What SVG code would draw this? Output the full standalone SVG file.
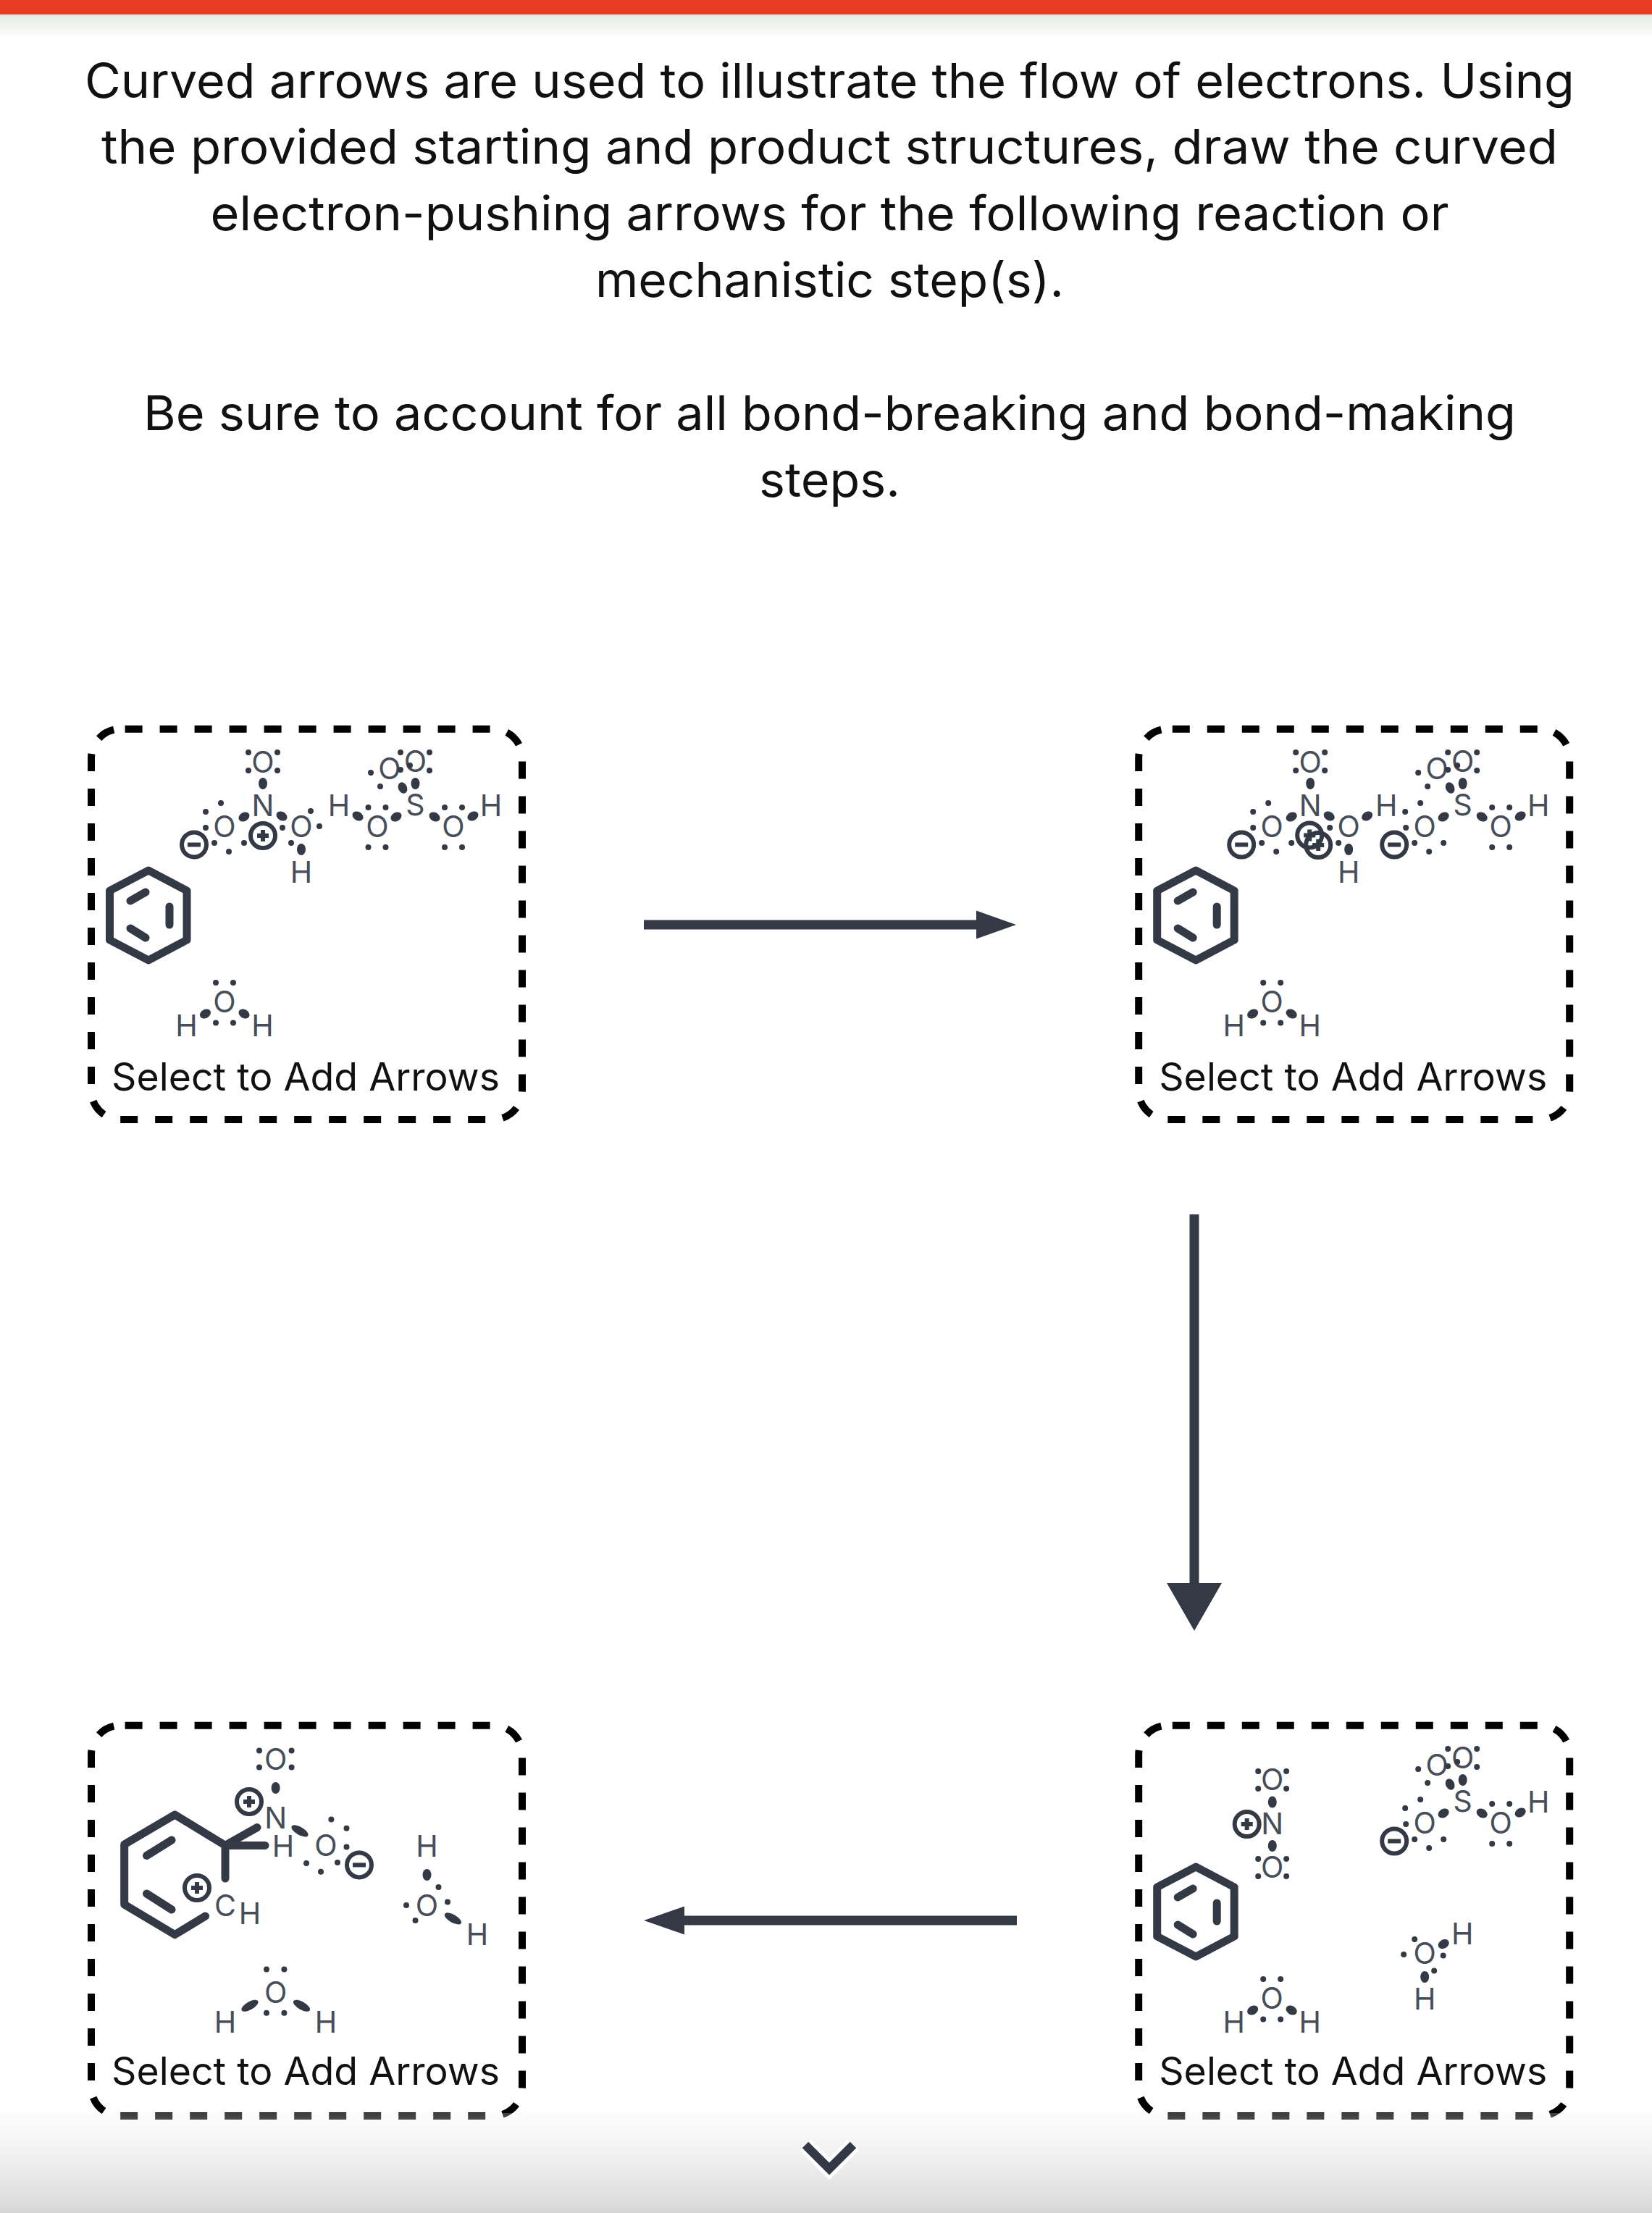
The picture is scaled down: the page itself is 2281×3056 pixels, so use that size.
<svg xmlns="http://www.w3.org/2000/svg" width="2281" height="3056" viewBox="0 0 2281 3056">
<style>
.q{font-family:Inter,"Liberation Sans",sans-serif;font-size:66px;fill:#111;text-anchor:middle}
.a{font-family:Inter,"Liberation Sans",sans-serif;font-size:41px;fill:#474d59;text-anchor:middle}
.s{font-family:Inter,"Liberation Sans",sans-serif;font-size:53px;fill:#111}
.box{fill:none;stroke:#000;stroke-width:10;stroke-dasharray:24 24;stroke-dashoffset:-6.6}
.dots{fill:none;stroke:#333a45;stroke-width:8;stroke-linecap:round}
.bond{fill:none;stroke:#333a45;stroke-width:11;stroke-linecap:round;stroke-linejoin:round}
.chg{fill:none;stroke:#333a45;stroke-width:6}
.lnk{fill:none;stroke:#333a45;stroke-width:13}
.head{fill:#333a45}
</style>
<defs>
<linearGradient id="sh" x1="0" y1="0" x2="0" y2="1"><stop offset="0" stop-color="#e4e8e4"/><stop offset="1" stop-color="#fff"/></linearGradient>
<linearGradient id="ft" x1="0" y1="0" x2="0" y2="1"><stop offset="0" stop-color="#f4f4f4" stop-opacity=".25"/><stop offset=".3" stop-color="#eaeaea" stop-opacity=".5"/><stop offset="1" stop-color="#d6d6d6"/></linearGradient>
<ellipse id="b" rx="6" ry="8" fill="#333a45"/>
<ellipse id="bl" rx="5.5" ry="13" fill="#333a45"/>
<g id="plus" class="chg"><circle r="17"/><path d="M-8 0H8M0-8V8"/></g>
<g id="minus" class="chg"><circle r="17"/><path d="M-9 0H9"/></g>
<g id="benzene"><path class="bond" d="M105 202L158 230V298L105 326L51.500 298V230Z"/><path class="bond" d="M80 244L101 232M134 252V277M80 282L101 295"/></g>
<rect id="frame" class="box" x="26" y="6.700" width="595" height="539.300" rx="40" ry="40"/>
</defs>
<rect width="2281" height="3056" fill="#fff"/>
<rect y="19" width="2281" height="34" fill="url(#sh)"/>
<rect width="2281" height="20" fill="#e63c26"/>
<g id="question">
<text class="q" x="1145.500" y="135" textLength="2057" lengthAdjust="spacingAndGlyphs">Curved arrows are used to illustrate the flow of electrons. Using</text>
<text class="q" x="1145.500" y="226" textLength="2011" lengthAdjust="spacingAndGlyphs">the provided starting and product structures, draw the curved</text>
<text class="q" x="1145.500" y="318" textLength="1710" lengthAdjust="spacingAndGlyphs">electron-pushing arrows for the following reaction or</text>
<text class="q" x="1145.500" y="410" textLength="647" lengthAdjust="spacingAndGlyphs">mechanistic step(s).</text>
<text class="q" x="1145.500" y="594" textLength="1895" lengthAdjust="spacingAndGlyphs">Be sure to account for all bond-breaking and bond-making</text>
<text class="q" x="1145.500" y="686" textLength="195" lengthAdjust="spacingAndGlyphs">steps.</text>
</g>
<g id="connectors">
<path class="lnk" d="M889 1277H1350"/><polygon class="head" points="1348,1257.500 1403,1277 1348,1296.500"/>
<path class="lnk" d="M1649 1677V2195"/><polygon class="head" points="1611,2186 1687,2186 1649,2252"/>
<path class="lnk" d="M1404 2652H940"/><polygon class="head" points="945,2632.500 889,2652 945,2671.500"/>
</g>
<g id="panel-1" transform="translate(100 1000)">
<use href="#frame"/><use href="#benzene"/>
<text class="a" x="263" y="67">O</text><text class="a" x="263" y="127">N</text><text class="a" x="210" y="156">O</text><text class="a" x="316" y="156">O</text><text class="a" x="316" y="219">H</text><text class="a" x="368" y="127">H</text><text class="a" x="421" y="156">O</text><text class="a" x="473.500" y="126">S</text><text class="a" x="438" y="76">O</text><text class="a" x="473.500" y="66">O</text><text class="a" x="526" y="156">O</text><text class="a" x="578" y="127">H</text>
<text class="a" x="210" y="398">O</text><text class="a" x="157.500" y="431">H</text><text class="a" x="262.500" y="431">H</text>
<path class="dots" d="M243 39h0M283 39h0M243 64h0M283 64h0M205 109h0M184 121h0M184 143h0M196 164h0M216 176h0M237 164h0M329 120h0M341 141h0M290 143h0M302 164h0M408.500 115h0M432.500 115h0M408.500 170h0M432.500 170h0M412 67h0M425 86h0M453 63h0M466 57h0M453 39h0M493 39h0M493 64h0M514 115h0M538 115h0M514 170h0M538 170h0M198 357h0M222 357h0M198 412.500h0M222 412.500h0"/>
<use href="#b" transform="translate(263 82)"/><use href="#b" transform="translate(237 128) rotate(60)"/><use href="#b" transform="translate(289 127) rotate(-60)"/><use href="#b" transform="translate(316 173)"/><use href="#b" transform="translate(394 127) rotate(-60)"/><use href="#b" transform="translate(447 128) rotate(60)"/><use href="#b" transform="translate(456 88) rotate(-25)"/><use href="#b" transform="translate(473.500 82)"/><use href="#b" transform="translate(500 128) rotate(-60)"/><use href="#b" transform="translate(553 127) rotate(60)"/><use href="#b" transform="translate(183.500 400) rotate(60)"/><use href="#b" transform="translate(237 400) rotate(-60)"/>
<use href="#minus" x="168" y="166.500"/><use href="#plus" x="263" y="154"/>
<text class="s" x="54" y="506" textLength="536" lengthAdjust="spacingAndGlyphs">Select to Add Arrows</text>
</g>
<g id="panel-2" transform="translate(1546.200 1000)">
<use href="#frame"/><use href="#benzene"/>
<text class="a" x="263" y="67">O</text><text class="a" x="263" y="127">N</text><text class="a" x="210" y="156">O</text><text class="a" x="316" y="156">O</text><text class="a" x="316" y="219">H</text><text class="a" x="368" y="127">H</text><text class="a" x="421" y="156">O</text><text class="a" x="473.500" y="126">S</text><text class="a" x="438" y="76">O</text><text class="a" x="473.500" y="66">O</text><text class="a" x="526" y="156">O</text><text class="a" x="578" y="127">H</text>
<text class="a" x="210" y="398">O</text><text class="a" x="157.500" y="431">H</text><text class="a" x="262.500" y="431">H</text>
<path class="dots" d="M243 39h0M283 39h0M243 64h0M283 64h0M205 109h0M184 121h0M184 143h0M196 164h0M216 176h0M237 164h0M290 143h0M302 164h0M415 109h0M394 121h0M395 143h0M407 164h0M427 176h0M447 164h0M412 67h0M425 86h0M453 63h0M466 57h0M453 39h0M493 39h0M493 64h0M514 115h0M538 115h0M514 170h0M538 170h0M198 357h0M222 357h0M198 412.500h0M222 412.500h0"/>
<use href="#b" transform="translate(263 82)"/><use href="#b" transform="translate(237 128) rotate(60)"/><use href="#b" transform="translate(289 127) rotate(-60)"/><use href="#b" transform="translate(316 173)"/><use href="#b" transform="translate(341.500 127) rotate(60)"/><use href="#b" transform="translate(447 128) rotate(60)"/><use href="#b" transform="translate(456 88) rotate(-25)"/><use href="#b" transform="translate(473.500 82)"/><use href="#b" transform="translate(500 128) rotate(-60)"/><use href="#b" transform="translate(553 127) rotate(60)"/><use href="#b" transform="translate(183.500 400) rotate(60)"/><use href="#b" transform="translate(237 400) rotate(-60)"/>
<use href="#minus" x="168" y="166.500"/><use href="#minus" x="379" y="166.500"/><use href="#plus" x="262" y="153.500"/><use href="#plus" x="274" y="167"/>
<text class="s" x="54" y="506" textLength="536" lengthAdjust="spacingAndGlyphs">Select to Add Arrows</text>
</g>
<g id="panel-3" transform="translate(100 2376)">
<use href="#frame"/>
<path class="bond" d="M183.600 270L141.400 295.600L71.700 254V171L141.400 130L211 172.400V218M211 172.400L255 147.600M211 172.400H266M102.500 186.500L137 165M102.500 239L137 261"/>
<text class="a" x="280.600" y="68">O</text><text class="a" x="280.600" y="149">N</text><text class="a" x="211" y="270">C</text><text class="a" x="245" y="281">H</text><text class="a" x="291" y="188">H</text><text class="a" x="350" y="187">O</text><text class="a" x="489.500" y="188">H</text><text class="a" x="489.500" y="270">O</text><text class="a" x="559" y="310">H</text><text class="a" x="280.600" y="390">O</text><text class="a" x="211" y="431">H</text><text class="a" x="350" y="431">H</text>
<path class="dots" d="M258 41.400h0M302.600 41.400h0M258 64.400h0M302.600 64.400h0M357.400 136.500h0M378.500 148.700h0M378.500 174.600h0M366 196h0M343 208.700h0M323 197h0M505.500 230h0M518 250.500h0M461 255h0M473.500 276h0M268 343.400h0M292.400 343.400h0M268 403.700h0M292.400 403.700h0"/>
<use href="#b" transform="translate(280.600 93)"/><use href="#bl" transform="translate(314 152.400) rotate(-60)"/><use href="#b" transform="translate(489.500 213)"/><use href="#bl" transform="translate(525.400 273.400) rotate(-60)"/><use href="#bl" transform="translate(245 393.700) rotate(60)"/><use href="#bl" transform="translate(316.500 393.700) rotate(-60)"/>
<use href="#plus" x="244" y="112"/><use href="#plus" x="172" y="231"/><use href="#minus" x="396" y="199.400"/>
<text class="s" x="54" y="503" textLength="536" lengthAdjust="spacingAndGlyphs">Select to Add Arrows</text>
</g>
<g id="panel-4" transform="translate(1546.200 2376)">
<use href="#frame"/><use href="#benzene"/>
<text class="a" x="210.600" y="96">O</text><text class="a" x="210.600" y="157">N</text><text class="a" x="210.600" y="217">O</text><text class="a" x="421" y="156">O</text><text class="a" x="473.500" y="126">S</text><text class="a" x="438" y="76">O</text><text class="a" x="473.500" y="66">O</text><text class="a" x="526" y="156">O</text><text class="a" x="578" y="127">H</text><text class="a" x="421" y="336">O</text><text class="a" x="473" y="309">H</text><text class="a" x="421" y="399">H</text>
<text class="a" x="210" y="398">O</text><text class="a" x="157.500" y="431">H</text><text class="a" x="262.500" y="431">H</text>
<path class="dots" d="M191 70h0M230 70h0M191 94h0M230 94h0M191 191h0M230 191h0M191 215h0M230 215h0M415 109h0M394 121h0M395 143h0M407 164h0M427 176h0M447 164h0M412 67h0M425 86h0M453 63h0M466 57h0M453 39h0M493 39h0M493 64h0M514 115h0M538 115h0M514 170h0M538 170h0M407 302h0M392 323h0M446.500 324.500h0M434 345.600h0M198 357h0M222 357h0M198 412.500h0M222 412.500h0"/>
<use href="#b" transform="translate(210.600 112.500)"/><use href="#b" transform="translate(210.600 173)"/><use href="#b" transform="translate(447 128) rotate(60)"/><use href="#b" transform="translate(456 88) rotate(-25)"/><use href="#b" transform="translate(473.500 82)"/><use href="#b" transform="translate(500 128) rotate(-60)"/><use href="#b" transform="translate(553 127) rotate(60)"/><use href="#b" transform="translate(447 308.600) rotate(60)"/><use href="#b" transform="translate(421 354)"/><use href="#b" transform="translate(183.500 400) rotate(60)"/><use href="#b" transform="translate(237 400) rotate(-60)"/>
<use href="#plus" x="175.500" y="143"/><use href="#minus" x="379" y="166.500"/>
<text class="s" x="54" y="503" textLength="536" lengthAdjust="spacingAndGlyphs">Select to Add Arrows</text>
</g>
<rect y="2918" width="2281" height="138" fill="url(#ft)"/>
<g id="chevron" fill="none" stroke-linejoin="miter">
<path d="M1112 2962L1145 2995L1178 2962" stroke="#fff" stroke-width="22"/>
<path d="M1112 2962L1145 2995L1178 2962" stroke="#333a45" stroke-width="12"/>
</g>
</svg>
